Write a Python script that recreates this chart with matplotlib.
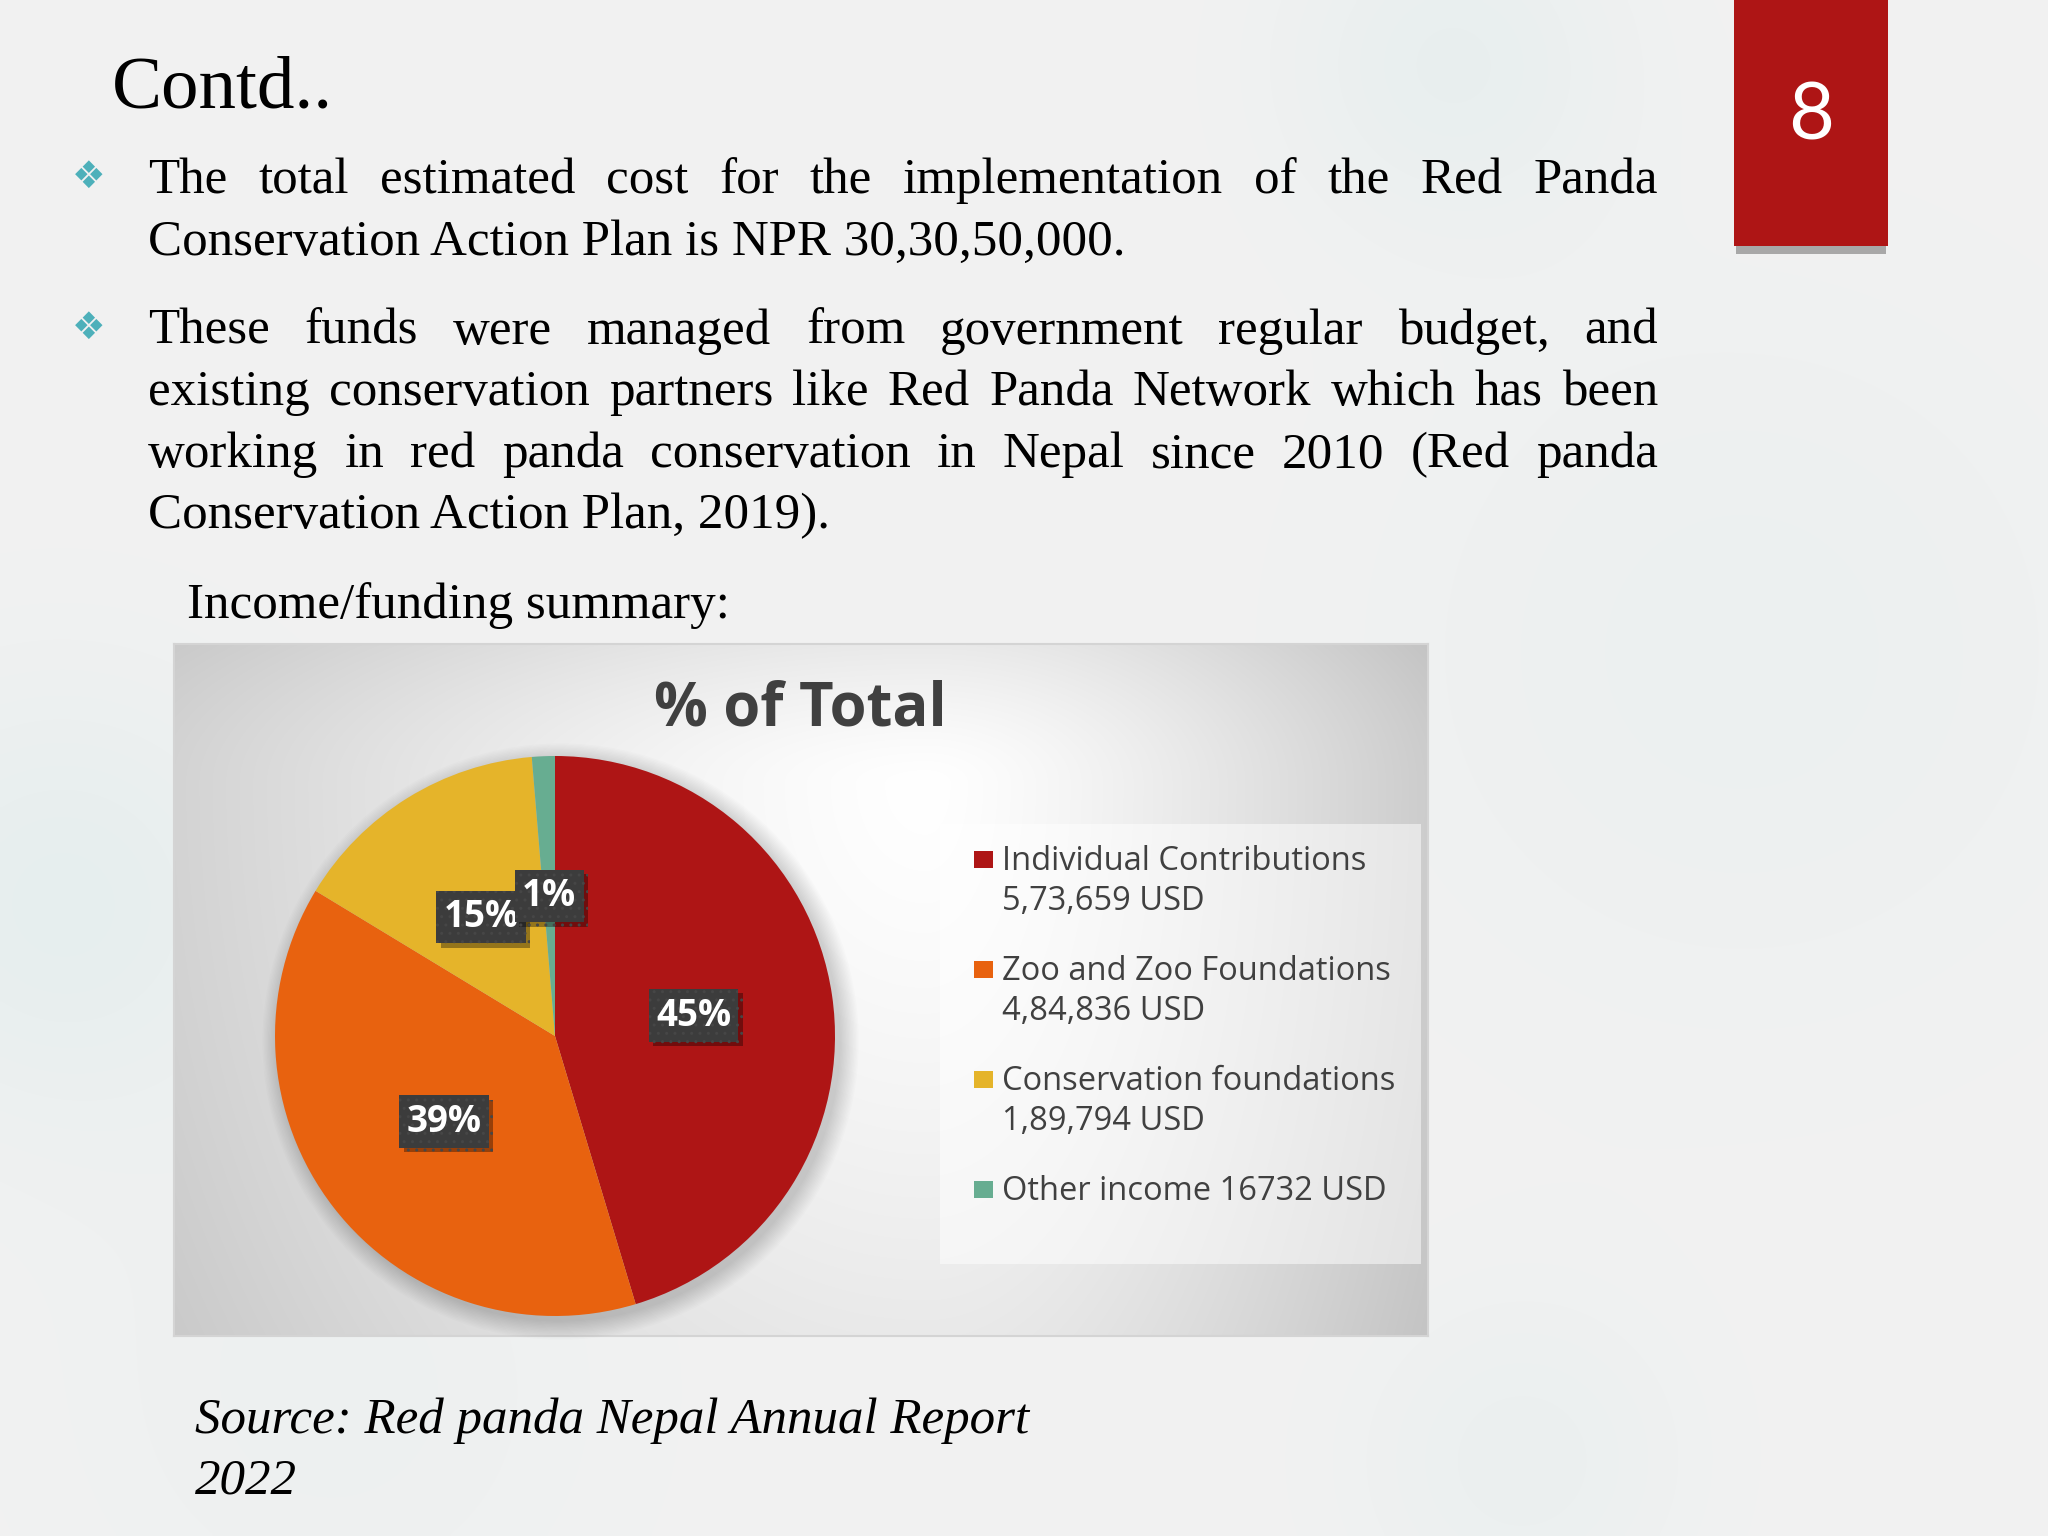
import numpy as np
import matplotlib.pyplot as plt
import matplotlib.patheffects as pe
from matplotlib.patches import Rectangle, Circle

# ---- data ----
categories = ["Individual Contributions", "Zoo and Zoo Foundations",
              "Conservation foundations", "Other income"]
amounts = [573659, 484836, 189794, 16732]
amount_text = ["5,73,659 USD", "4,84,836 USD", "1,89,794 USD", "16732 USD"]
pct_labels = ["45%", "39%", "15%", "1%"]
colors = ["#AE1515", "#E8620F", "#E5B42A", "#67AD91"]

bullet1 = ["The total estimated cost for the implementation of the Red Panda",
           "Conservation Action Plan is NPR 30,30,50,000."]
bullet2 = ["These funds were managed from government regular budget, and",
           "existing conservation partners like Red Panda Network which has been",
           "working in red panda conservation in Nepal since 2010 (Red panda",
           "Conservation Action Plan, 2019)."]

W, H = 2048, 1536
fig = plt.figure(figsize=(W / 100, H / 100), dpi=100)

# slide background with faint blobs
bg = fig.add_axes([0, 0, 1, 1], zorder=0)
yy, xx = np.mgrid[0:H:4, 0:W:4]
tint = np.zeros(xx.shape)
for cx, cy, s, a in [(1450, 60, 120, 0.8), (60, 900, 160, 1.0),
                     (1740, 650, 260, 0.5), (1520, 1460, 120, 0.6),
                     (330, 1390, 200, 0.4)]:
    tint += a * np.exp(-((xx - cx) ** 2 + (yy - cy) ** 2) / (2 * s * s))
base = 0.949
rgb = np.dstack([base - 0.045 * tint, base - 0.015 * tint, base - 0.015 * tint])
bg.imshow(np.clip(rgb, 0, 1), extent=[0, W, H, 0], aspect="auto",
          interpolation="bilinear")
bg.set_xlim(0, W)
bg.set_ylim(H, 0)
bg.axis("off")

# chart area with off-centre gradient
x0, y0, x1, y1 = 174, 644, 1428, 1336
cb = fig.add_axes([x0 / W, 1 - y1 / H, (x1 - x0) / W, (y1 - y0) / H], zorder=1)
v, u = np.mgrid[0:1:300j, 0:1:500j]
du = np.where(u < 0.6, (u - 0.6) / 0.7, (u - 0.6) / 0.42)
dv = np.where(v < 0.2, (v - 0.2) / 0.4, (v - 0.2) / 1.6)
d = np.sqrt(du ** 2 + dv ** 2)
g = np.clip(1 - 0.21 * d ** 1.3, 0.76, 1)
cb.imshow(np.dstack([g, g, g]), extent=[0, 1, 1, 0], aspect="auto",
          interpolation="bilinear")
cb.set_xlim(0, 1)
cb.set_ylim(1, 0)
cb.set_xticks([])
cb.set_yticks([])
for sp in cb.spines.values():
    sp.set_color("#d4d4d4")
    sp.set_linewidth(1.5)

# pie
cx, cy, r = 555, 1036, 280
pa = fig.add_axes([(cx - r) / W, 1 - (cy + r) / H, 2 * r / W, 2 * r / H], zorder=2)
pa.patch.set_alpha(0)
for k in range(14):
    pa.add_patch(Circle((0.02, -0.02), 1 + 0.005 * k, fc="black", alpha=0.012,
                        lw=0, zorder=0, clip_on=False))
wedges, _ = pa.pie(amounts, colors=colors, startangle=90, counterclock=False,
                   radius=1, wedgeprops=dict(linewidth=0, zorder=1))
pa.set_xlim(-1, 1)
pa.set_ylim(-1, 1)
pa.axis("off")
for w, lab in zip(wedges, pct_labels):
    ang = np.deg2rad((w.theta1 + w.theta2) / 2)
    t = pa.text(0.5 * np.cos(ang), 0.5 * np.sin(ang), lab, ha="center", va="center",
                fontsize=26.5, fontweight="bold", color="white", family="Open Sans",
                zorder=5,
                bbox=dict(boxstyle="square,pad=0.2", fc="#3c3c3c", ec="#464646",
                          lw=0, hatch=".."))
    t.get_bbox_patch().set_path_effects(
        [pe.withSimplePatchShadow(offset=(3, -3), shadow_rgbFace="black", alpha=0.35)])

# overlay in pixel coordinates
ov = fig.add_axes([0, 0, 1, 1], zorder=5)
ov.set_xlim(0, W)
ov.set_ylim(H, 0)
ov.axis("off")
ov.patch.set_alpha(0)
renderer = fig.canvas.get_renderer()

ov.text(800, 725, "% of Total", ha="center", va="baseline", fontsize=43,
        fontweight="bold", color="#404040", family="Open Sans")

# legend
ov.add_patch(Rectangle((940, 824), 481, 440, fc="white", alpha=0.5, lw=0))
legend_rows = [[categories[0], amount_text[0]],
               [categories[1], amount_text[1]],
               [categories[2], amount_text[2]],
               [categories[3] + " " + amount_text[3]]]
for i, (rows, col) in enumerate(zip(legend_rows, colors)):
    yb = 870 + 110 * i
    ov.add_patch(Rectangle((974, yb - 19), 19, 17, fc=col, lw=0))
    for j, line in enumerate(rows):
        ov.text(1002, yb + 40 * j, line, va="baseline", ha="left", fontsize=23.5,
                color="#404040", family="Open Sans")

# slide text
body = dict(fontsize=36.7, family="Liberation Serif", color="black", va="baseline")
ov.text(112, 107, "Contd..", fontsize=54, family="Liberation Serif",
        color="black", va="baseline")


def put_line(text, xl, y, xr=None):
    if xr is None:
        ov.text(xl, y, text, ha="left", **body)
        return
    words = text.split()
    ts = [ov.text(0, y, wd, ha="left", **body) for wd in words]
    ws = [t.get_window_extent(renderer).width for t in ts]
    gap = (xr - xl - sum(ws)) / (len(words) - 1)
    x = xl
    for t, wd in zip(ts, ws):
        t.set_x(x)
        x += wd + gap


XL, XR = 148, 1658
for k, (lines, y_first) in enumerate([(bullet1, 193), (bullet2, 344)]):
    ov.text(89, y_first - 15, "\u2756", ha="center", va="center", fontsize=27,
            color="#4DB0BA", family="DejaVu Sans")
    for i, line in enumerate(lines):
        last = i == len(lines) - 1
        put_line(line, XL, y_first + 61.5 * i, None if last else XR)

ov.text(187, 618, "Income/funding summary:", ha="left", **body)

ov.text(195, 1433, "Source: Red panda Nepal Annual Report", ha="left",
        style="italic", **body)
ov.text(195, 1494, "2022", ha="left", style="italic", **body)

# page number box
ov.add_patch(Rectangle((1736, 0), 150, 254, fc="#a0a0a0", lw=0, alpha=0.9))
ov.add_patch(Rectangle((1734, 0), 154, 246, fc="#AE1515", lw=0))
ov.text(1811, 118, "8", ha="center", va="center", fontsize=57, color="white",
        family="Lato", fontweight="normal")

fig.savefig("out.png", dpi=100)
